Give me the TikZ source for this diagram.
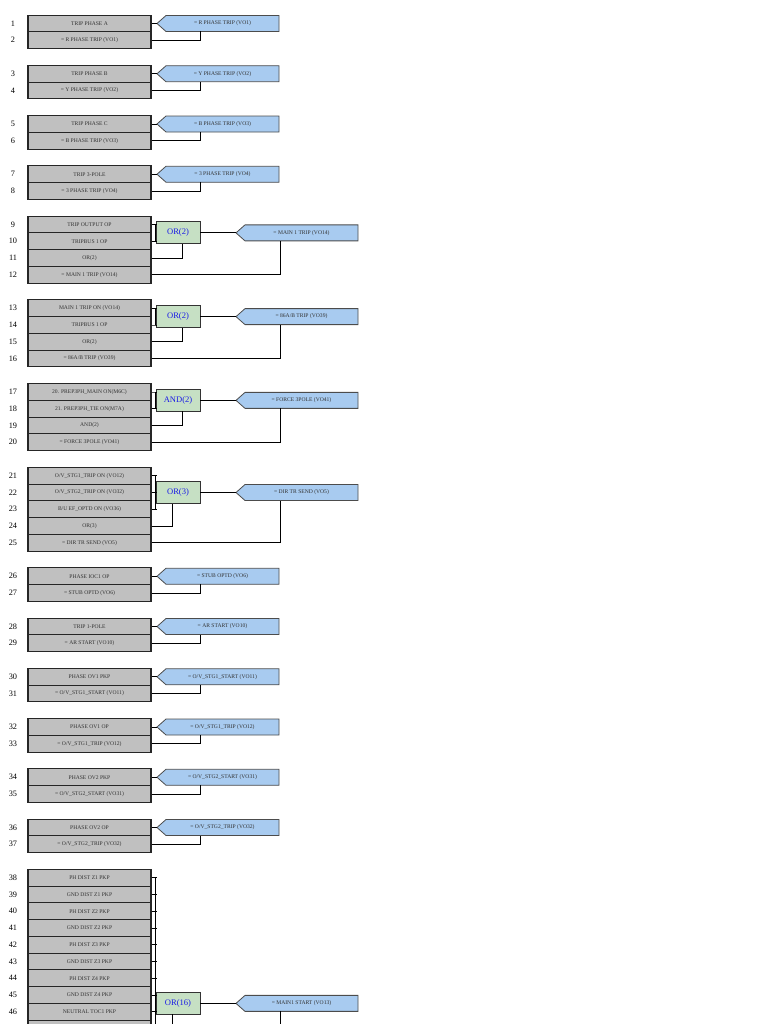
\documentclass[tikz,border=0pt]{standalone}
\usepackage{fontspec}
\setmainfont{Liberation Serif}
\definecolor{rowgray}{HTML}{C0C0C0}
\definecolor{outblue}{HTML}{A8CBF0}
\definecolor{gategreen}{HTML}{C6E0C4}
\definecolor{gatetext}{HTML}{1A1AE6}
\begin{document}
\begin{tikzpicture}[x=0.75pt,y=-0.75pt,
  rowbox/.style={draw=black!85,line width=0.8pt,fill=rowgray,minimum width=123*0.75pt,minimum height=16.75*0.75pt,inner sep=0pt,font=\fontsize{4.2}{5}\selectfont,text=black!80},
  numlbl/.style={font=\fontsize{6.2}{7}\selectfont,inner sep=0pt},
  bluebox/.style={draw=black!70,line width=0.6pt,fill=outblue},
  outtext/.style={font=\fontsize{4.2}{5}\selectfont,inner sep=0pt,text=black!80},
  gatebox/.style={draw=black!80,line width=0.6pt,fill=gategreen,minimum width=44*0.75pt,minimum height=22*0.75pt,inner sep=0pt,font=\fontsize{6.4}{7}\selectfont,text=gatetext},
  wire/.style={line width=0.6pt,draw=black}]
\useasboundingbox (0,0) rectangle (768,1024);
\newcommand\yof[1]{23.5+(#1)*16.75}
\newcommand\inrow[3]{%
  \node[rowbox] (r#1) at (89.5,{\yof{#2}}) {#3};
  \node[numlbl] (n#1) at (13,{\yof{#2}}) {#1};}
\newcommand\outbox[4]{%
  \draw[bluebox] (#2,#3) coordinate (#1tip) -- ++(9,-8) -- ++(113,0) -- ++(0,16) -- ++(-113,0) -- cycle;
  \node[outtext] (#1) at ({#2+65.5},#3) {#4};}
\newcommand\simple[5]{%
  \inrow{#1}{#3}{#4}
  \inrow{#2}{#3+1}{= #5}
  \pgfmathsetmacro\yy{\yof{#3}}
  \outbox{o#1}{157}{\yy}{= #5}
  \coordinate (b#1) at (200,{\yy+8});
  \draw[wire] (r#1.east) -- (o#1tip);
  \draw[wire] (r#2.east) -| (b#1);}
% #1 first row, #2 first slot, #3 n inputs, #4 gate, #5 out, #6 wire x
\newcommand\gategrp[6]{%
  \pgfmathsetmacro\gy{\yof{#2+(#3-1)/2}}
  \node[gatebox] (g#1) at (178,\gy) {#4};
  \outbox{o#1}{236}{\gy}{= #5}
  \draw[wire] (g#1) -- (o#1tip);
  \pgfmathtruncatemacro\la{#1+#3-1}
  \coordinate (bt#1) at (155,{\yof{#2}});
  \coordinate (bb#1) at (155,{\yof{#2+#3-1}});
  \draw[wire] (bt#1) -- (bb#1);
  \foreach \k in {1,...,#3}{\pgfmathtruncatemacro\rr{#1+\k-1}\draw[wire] (r\rr.east) -- (155,{\yof{#2+\k-1}}) -- (157,{\yof{#2+\k-1}});}
  \pgfmathtruncatemacro\ga{#1+#3}
  \pgfmathtruncatemacro\fa{#1+#3+1}
  \coordinate (gw#1) at (#6,{\gy+11});
  \coordinate (ow#1) at (280,{\gy+8});
  \draw[wire] (r\ga.east) -| (gw#1);
  \draw[wire] (r\fa.east) -| (ow#1);}
\simple{1}{2}{0}{TRIP PHASE A}{R PHASE TRIP (VO1)}
\simple{3}{4}{3}{TRIP PHASE B}{Y PHASE TRIP (VO2)}
\simple{5}{6}{6}{TRIP PHASE C}{B PHASE TRIP (VO3)}
\simple{7}{8}{9}{TRIP 3-POLE}{3 PHASE TRIP (VO4)}
\inrow{9}{12}{TRIP OUTPUT OP}
\inrow{10}{13}{TRIPBUS 1 OP}
\inrow{11}{14}{OR(2)}
\inrow{12}{15}{= MAIN 1 TRIP (VO14)}
\gategrp{9}{12}{2}{OR(2)}{MAIN 1 TRIP (VO14)}{182}
\inrow{13}{17}{MAIN 1 TRIP ON (VO14)}
\inrow{14}{18}{TRIPBUS 1 OP}
\inrow{15}{19}{OR(2)}
\inrow{16}{20}{= 86A/B TRIP (VO39)}
\gategrp{13}{17}{2}{OR(2)}{86A/B TRIP (VO39)}{182}
\inrow{17}{22}{20. PREP3PH\_MAIN ON(M6C)}
\inrow{18}{23}{21. PREP3PH\_TIE ON(M7A)}
\inrow{19}{24}{AND(2)}
\inrow{20}{25}{= FORCE 3POLE (VO41)}
\gategrp{17}{22}{2}{AND(2)}{FORCE 3POLE (VO41)}{182}
\inrow{21}{27}{O/V\_STG1\_TRIP ON (VO12)}
\inrow{22}{28}{O/V\_STG2\_TRIP ON (VO32)}
\inrow{23}{29}{B/U EF\_OPTD ON (VO36)}
\inrow{24}{30}{OR(3)}
\inrow{25}{31}{= DIR TR SEND (VO5)}
\gategrp{21}{27}{3}{OR(3)}{DIR TR SEND (VO5)}{172}
\simple{26}{27}{33}{PHASE IOC1 OP}{STUB OPTD (VO6)}
\simple{28}{29}{36}{TRIP 1-POLE}{AR START (VO10)}
\simple{30}{31}{39}{PHASE OV1 PKP}{O/V\_STG1\_START (VO11)}
\simple{32}{33}{42}{PHASE OV1 OP}{O/V\_STG1\_TRIP (VO12)}
\simple{34}{35}{45}{PHASE OV2 PKP}{O/V\_STG2\_START (VO31)}
\simple{36}{37}{48}{PHASE OV2 OP}{O/V\_STG2\_TRIP (VO32)}
\inrow{38}{51}{PH DIST Z1 PKP}
\inrow{39}{52}{GND DIST Z1 PKP}
\inrow{40}{53}{PH DIST Z2 PKP}
\inrow{41}{54}{GND DIST Z2 PKP}
\inrow{42}{55}{PH DIST Z3 PKP}
\inrow{43}{56}{GND DIST Z3 PKP}
\inrow{44}{57}{PH DIST Z4 PKP}
\inrow{45}{58}{GND DIST Z4 PKP}
\inrow{46}{59}{NEUTRAL TOC1 PKP}
\foreach \i in {47,...,55}{\pgfmathtruncatemacro\s{\i+13}\node[rowbox] (r\i) at (89.5,{\yof{\s}}) {};}
\gategrp{38}{51}{16}{OR(16)}{MAIN1 START (VO13)}{172}
\end{tikzpicture}
\end{document}
